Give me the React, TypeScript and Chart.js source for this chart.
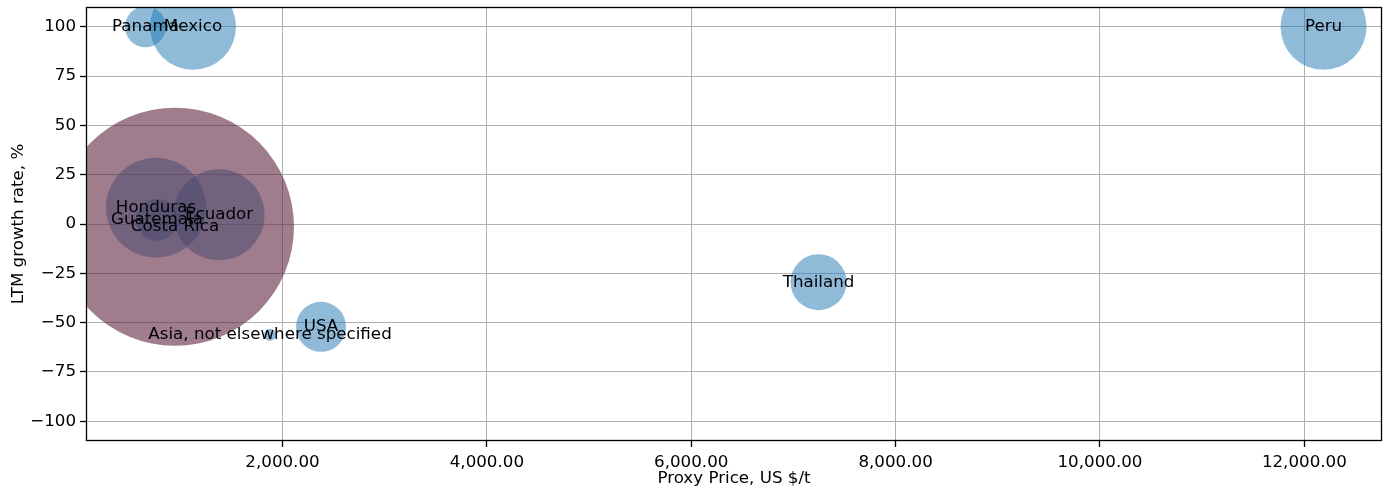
import React, { useEffect, useRef } from "react";
import { Chart, registerables } from "chart.js";

Chart.register(...registerables);

const countries = [
  "Panama",
  "Mexico",
  "Peru",
  "Thailand",
  "USA",
  "Asia, not elsewhere specified",
  "Honduras",
  "Guatemala",
  "Ecuador",
  "Costa Rica",
];
const proxyPrice = [659, 1124, 12188, 7246, 2377, 1878, 762, 772, 1379, 948];
const growthRate = [100, 100, 100, -29.5, -52.1, -56.2, 8.3, 2.2, 4.7, -1.4];
const bubbleArea = [420, 1849, 1849, 784, 625, 36, 2500, 441, 2070, 14161];
const xTickValues = [2000, 4000, 6000, 8000, 10000, 12000];
const yTickValues = [-100, -75, -50, -25, 0, 25, 50, 75, 100];

const FONT = "'DejaVu Sans', sans-serif";
const FS = 16.7;

export default function App() {
  const ref = useRef<HTMLCanvasElement | null>(null);

  useEffect(() => {
    document.body.style.margin = "0";
    const canvas = ref.current;
    if (!canvas) return;

    const data = countries.map((c, i) => ({
      x: proxyPrice[i],
      y: growthRate[i],
      r: Math.sqrt(bubbleArea[i]),
    }));
    const colors = countries.map((c) =>
      c === "Costa Rica" ? "rgba(95,38,64,0.6)" : "rgba(31,119,180,0.5)"
    );

    const labelPlugin = {
      id: "labels",
      afterDraw(chart: any) {
        const ctx = chart.ctx;
        const a = chart.chartArea;
        ctx.save();
        ctx.strokeStyle = "#000";
        ctx.lineWidth = 1.3;
        ctx.strokeRect(
          Math.round(a.left) + 0.5,
          Math.round(a.top) + 0.5,
          Math.round(a.right - a.left) - 1,
          Math.round(a.bottom - a.top) - 1
        );
        const meta = chart.getDatasetMeta(0);
        ctx.font = `${FS}px ${FONT}`;
        ctx.fillStyle = "#000";
        ctx.textAlign = "center";
        ctx.textBaseline = "middle";
        meta.data.forEach((pt: any, i: number) => {
          ctx.fillText(countries[i], pt.x, pt.y);
        });
        ctx.restore();
      },
    };

    const chart = new Chart(canvas, {
      type: "bubble",
      data: {
        datasets: [
          {
            data,
            backgroundColor: colors,
            borderWidth: 0,
            hoverBorderWidth: 0,
          },
        ],
      },
      options: {
        animation: false,
        responsive: true,
        maintainAspectRatio: false,
        devicePixelRatio: 1,
        events: [],
        layout: {
          autoPadding: false,
          padding: { top: 7, right: 7, left: 0, bottom: 0 },
        },
        plugins: {
          legend: { display: false },
          tooltip: { enabled: false },
        },
        scales: {
          x: {
            type: "linear",
            min: 77,
            max: 12760,
            z: 1,
            afterBuildTicks: (s: any) => {
              s.ticks = xTickValues.map((value) => ({ value }));
            },
            afterFit: (s: any) => {
              s.height = 48;
              s.paddingLeft = 0;
              s.paddingRight = 0;
            },
            ticks: {
              font: { family: FONT, size: FS },
              color: "#000",
              padding: 6,
              maxRotation: 0,
              autoSkip: false,
              callback: (v: any) =>
                Number(v).toLocaleString("en-US", {
                  minimumFractionDigits: 2,
                  maximumFractionDigits: 2,
                }),
            },
            grid: {
              color: "#b0b0b0",
              lineWidth: 1,
              tickLength: 6,
              tickColor: "#000",
              tickWidth: 1.3,
            },
            border: { display: false },
            title: {
              display: true,
              text: "Proxy Price, US $/t",
              font: { family: FONT, size: FS },
              color: "#000",
              padding: { top: 0, bottom: 0 },
            },
          },
          y: {
            type: "linear",
            min: -110,
            max: 110,
            z: 1,
            afterBuildTicks: (s: any) => {
              s.ticks = yTickValues.map((value) => ({ value }));
            },
            afterFit: (s: any) => {
              s.width = 86;
              s.paddingTop = 0;
              s.paddingBottom = 0;
            },
            ticks: {
              font: { family: FONT, size: FS },
              color: "#000",
              padding: 4,
              autoSkip: false,
              callback: (v: any) => String(v).replace("-", "\u2212"),
            },
            grid: {
              color: "#b0b0b0",
              lineWidth: 1,
              tickLength: 6,
              tickColor: "#000",
              tickWidth: 1.3,
            },
            border: { display: false },
            title: {
              display: true,
              text: "LTM growth rate, %",
              font: { family: FONT, size: FS },
              color: "#000",
              padding: { top: 9, bottom: 0 },
            },
          },
        },
      },
      plugins: [labelPlugin],
    } as any);

    return () => chart.destroy();
  }, []);

  return (
    <div style={{ position: "relative", width: 1389, height: 489 }}>
      <canvas ref={ref} />
    </div>
  );
}
